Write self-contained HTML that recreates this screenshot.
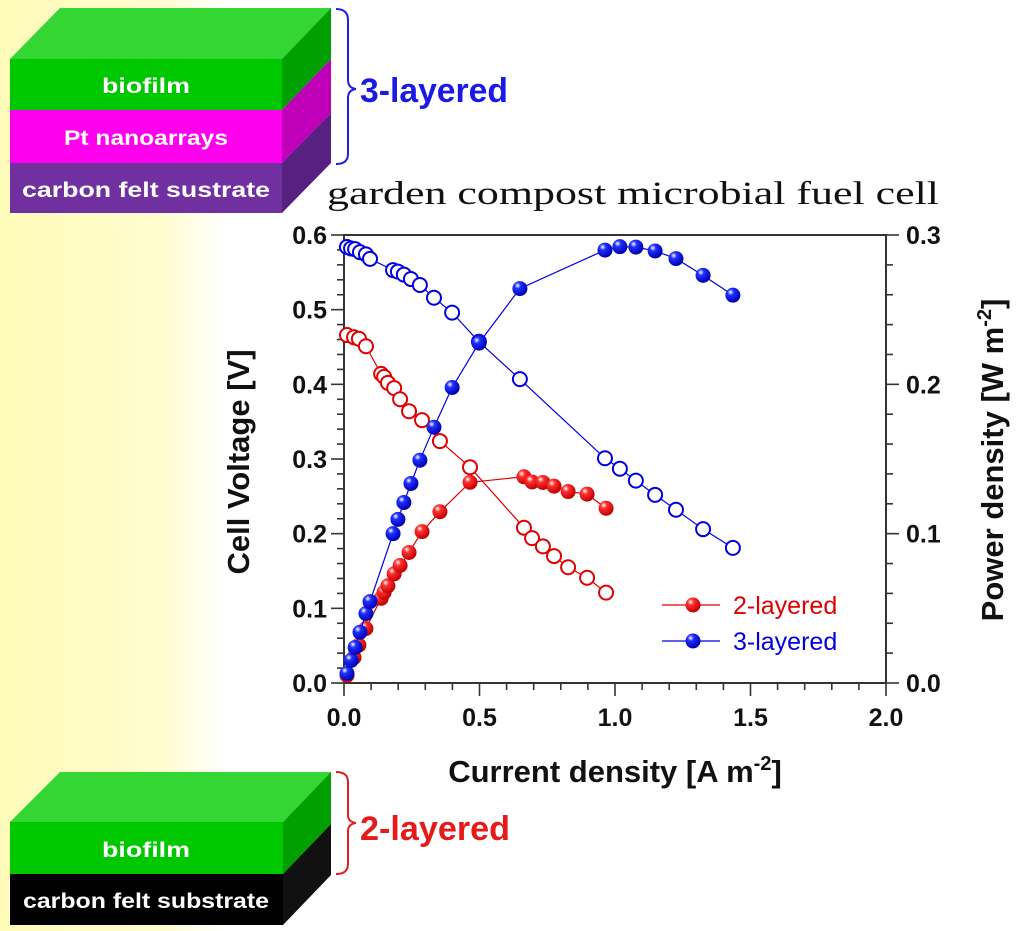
<!DOCTYPE html>
<html><head><meta charset="utf-8"><style>
html,body{margin:0;padding:0;background:#fff}
svg{display:block}
.b{font-family:"Liberation Sans",Arial,sans-serif;font-weight:bold}
.n{font-family:"Liberation Sans Narrow","Liberation Sans",sans-serif;font-weight:bold}
</style></head><body>
<svg width="1024" height="931" viewBox="0 0 1024 931" xmlns="http://www.w3.org/2000/svg">
<defs>
<linearGradient id="bg" x1="0" x2="1" y1="0" y2="0">
<stop offset="0" stop-color="#fffbb8"/><stop offset="0.16" stop-color="#fffcd0"/><stop offset="0.22" stop-color="#ffffff"/></linearGradient>
<radialGradient id="gr" cx="0.35" cy="0.3" r="0.7"><stop offset="0" stop-color="#fff"/><stop offset="0.3" stop-color="#ff3030"/><stop offset="1" stop-color="#c00000"/></radialGradient>
<radialGradient id="gb" cx="0.35" cy="0.3" r="0.7"><stop offset="0" stop-color="#fff"/><stop offset="0.3" stop-color="#2030ff"/><stop offset="1" stop-color="#0000b0"/></radialGradient>
</defs>
<rect width="1024" height="931" fill="url(#bg)"/>

<g>
<polygon points="10,59 60,8 331,8 282,59" fill="#33d633"/>
<rect x="10" y="59" width="272" height="51" fill="#00c800"/>
<rect x="10" y="110" width="272" height="53" fill="#ff00ee"/>
<rect x="10" y="163" width="272" height="50" fill="#7030a0"/>
<polygon points="282,59 331,8 331,59 282,110" fill="#00a000"/>
<polygon points="282,110 331,59 331,113 282,163" fill="#c000b8"/>
<polygon points="282,163 331,113 331,163 282,213" fill="#582080"/>
<text x="146" y="93" class="b" font-size="21" fill="#fff" text-anchor="middle" textLength="88" lengthAdjust="spacingAndGlyphs">biofilm</text>
<text x="146" y="145" class="b" font-size="21" fill="#fff" text-anchor="middle" textLength="164" lengthAdjust="spacingAndGlyphs">Pt nanoarrays</text>
<text x="146" y="197" class="b" font-size="21" fill="#fff" text-anchor="middle" textLength="248" lengthAdjust="spacingAndGlyphs">carbon felt sustrate</text>
<path d="M336,9 Q348,9 348,20 L348,80 Q348,88 356,89 Q348,90 348,98 L348,154 Q348,164 336,164" fill="none" stroke="#2020e0" stroke-width="2"/>
<text x="360" y="102" class="b" font-size="34" fill="#1a1ae6" textLength="148" lengthAdjust="spacingAndGlyphs">3-layered</text>
</g>

<g>
<polygon points="10,822 60,772 331,772 283,822" fill="#33d633"/>
<rect x="10" y="822" width="273" height="52" fill="#00c800"/>
<rect x="10" y="874" width="273" height="51" fill="#000"/>
<polygon points="283,822 331,772 331,824 283,874" fill="#00a000"/>
<polygon points="283,874 331,824 331,875 283,925" fill="#111"/>
<text x="146" y="857" class="b" font-size="21" fill="#fff" text-anchor="middle" textLength="88" lengthAdjust="spacingAndGlyphs">biofilm</text>
<text x="146" y="908" class="b" font-size="21" fill="#fff" text-anchor="middle" textLength="246" lengthAdjust="spacingAndGlyphs">carbon felt substrate</text>
<path d="M336,772 Q348,772 348,782 L348,815 Q348,822 356,823 Q348,824 348,831 L348,864 Q348,874 336,874" fill="none" stroke="#e02020" stroke-width="2"/>
<text x="360" y="840" class="b" font-size="34" fill="#e61a1a" textLength="150" lengthAdjust="spacingAndGlyphs">2-layered</text>
</g>

<text x="633" y="204" font-family="'Liberation Serif',serif" font-size="33" text-anchor="middle" fill="#111" textLength="612" lengthAdjust="spacingAndGlyphs">garden compost microbial fuel cell</text>

<g id="chart"></g>
</svg>
<script>
const currentBlue = [0.011,0.026,0.041,0.059,0.081,0.096,0.181,0.199,0.221,0.247,0.280,0.332,0.399,0.498,0.649,0.963,1.018,1.077,1.148,1.225,1.325,1.435];
const voltageBlue = [0.584,0.582,0.581,0.577,0.574,0.568,0.553,0.551,0.547,0.541,0.533,0.516,0.496,0.457,0.407,0.301,0.287,0.271,0.252,0.232,0.206,0.181];
const powerBlue = [0.0064,0.0151,0.0238,0.0340,0.0465,0.0545,0.100,0.1096,0.1209,0.1336,0.1492,0.1713,0.1979,0.2276,0.2641,0.2899,0.2922,0.2919,0.2893,0.2842,0.2730,0.2597];
const currentRed = [0.011,0.037,0.055,0.081,0.137,0.148,0.162,0.185,0.207,0.240,0.288,0.354,0.465,0.664,0.694,0.734,0.775,0.827,0.897,0.967];
const voltageRed = [0.466,0.463,0.461,0.451,0.414,0.410,0.402,0.395,0.380,0.364,0.352,0.324,0.289,0.208,0.194,0.183,0.170,0.155,0.141,0.121];
const powerRed = [0.0051,0.0171,0.0254,0.0365,0.0567,0.0607,0.0651,0.0731,0.0787,0.0874,0.1014,0.1147,0.1344,0.1381,0.1346,0.1343,0.1318,0.1282,0.1265,0.1170];
const xTicks = ["0.0","0.5","1.0","1.5","2.0"];
const yTicks = ["0.0","0.1","0.2","0.3","0.4","0.5","0.6"];
const y2Ticks = ["0.0","0.1","0.2","0.3"];

const NS="http://www.w3.org/2000/svg";
const g=document.getElementById('chart');
const X0=344,X1=886,Y0=683,Y1=235;
const xs=v=>X0+(v/2)*(X1-X0);
const ys=v=>Y0-(v/0.6)*(Y0-Y1);
const ys2=v=>Y0-(v/0.3)*(Y0-Y1);
function mk(tag,attrs,parent){const e=document.createElementNS(NS,tag);for(const k in attrs)e.setAttribute(k,attrs[k]);(parent||g).appendChild(e);return e;}

const frame=mk('path',{d:`M${X0},${Y1} L${X0},${Y0} L${X1},${Y0} L${X1},${Y1} Z`,fill:'none',stroke:'#333','stroke-width':2});


for(let i=0;i<=20;i++){const x=xs(i*0.1);const L=i%5===0?13:7;mk('line',{x1:x,y1:Y0,x2:x,y2:Y0+L,stroke:'#333','stroke-width':1.6});}
for(let i=0;i<=30;i++){const y=ys(i*0.02);const L=i%5===0?13:7;mk('line',{x1:X0,y1:y,x2:X0-L,y2:y,stroke:'#333','stroke-width':1.6});}
for(let i=0;i<=30;i++){const y=ys2(i*0.01);const L=i%10===0?13:(i%2===0?7:0);if(L)mk('line',{x1:X1,y1:y,x2:X1+L,y2:y,stroke:'#333','stroke-width':1.6});}
xTicks.forEach(t=>{const e=mk('text',{x:xs(+t),y:Y0+43,'text-anchor':'middle','font-size':25,class:'b',fill:'#111'});e.textContent=t;

});
yTicks.forEach(t=>{const e=mk('text',{x:X0-17,y:ys(+t)+9,'text-anchor':'end','font-size':25,class:'b',fill:'#111'});e.textContent=t;

});
y2Ticks.forEach(t=>{const e=mk('text',{x:X1+20,y:ys2(+t)+9,'text-anchor':'start','font-size':25,class:'b',fill:'#111'});e.textContent=t;

});
let t=mk('text',{x:615,y:782,'text-anchor':'middle','font-size':31,class:'b',fill:'#111'});
t.innerHTML='Current density [A m<tspan dy="-12" font-size="20">-2</tspan><tspan dy="12">]</tspan>';


t=mk('text',{x:0,y:0,'text-anchor':'middle','font-size':31,class:'b',fill:'#111',transform:'translate(249,462) rotate(-90)'});
t.textContent='Cell Voltage [V]';


t=mk('text',{x:0,y:0,'text-anchor':'middle','font-size':31,class:'b',fill:'#111',transform:'translate(1003,460) rotate(-90)'});
t.innerHTML='Power density [W m<tspan dy="-12" font-size="20">-2</tspan><tspan dy="12">]</tspan>';



function series(cur,vals,sc,color,filled,name){
  const pts=cur.map((c,i)=>xs(c)+','+sc(vals[i])).join(' ');
  const l=mk('polyline',{points:pts,fill:'none',stroke:color,'stroke-width':1.2});
  
  
  cur.forEach((c,i)=>{
    const m=filled?mk('circle',{cx:xs(c),cy:sc(vals[i]),r:7.5,fill:color==='#e00000'?'url(#gr)':'url(#gb)'}):
      mk('circle',{cx:xs(c),cy:sc(vals[i]),r:7,fill:'#fff',stroke:color,'stroke-width':2});
    
    
  });
}
series(currentRed,voltageRed,ys,'#e00000',false,'voltage-2-layered');
series(currentBlue,voltageBlue,ys,'#0000e0',false,'voltage-3-layered');
series(currentRed,powerRed,ys2,'#e00000',true,'power-2-layered');
series(currentBlue,powerBlue,ys2,'#0000e0',true,'power-3-layered');

[['2-layered','#e00000','url(#gr)',605],['3-layered','#0000e0','url(#gb)',641]].forEach(([lab,c,f,y])=>{
  const lg=mk('g',{});
  
  
  mk('line',{x1:662,y1:y,x2:720,y2:y,stroke:c,'stroke-width':1.2},lg);
  mk('circle',{cx:693,cy:y,r:7.5,fill:f},lg);
  const tx=mk('text',{x:733,y:y+9,'font-size':25,fill:c,'font-family':'Liberation Sans, sans-serif'},lg);
  tx.textContent=lab;
});
</script>
</body></html>
